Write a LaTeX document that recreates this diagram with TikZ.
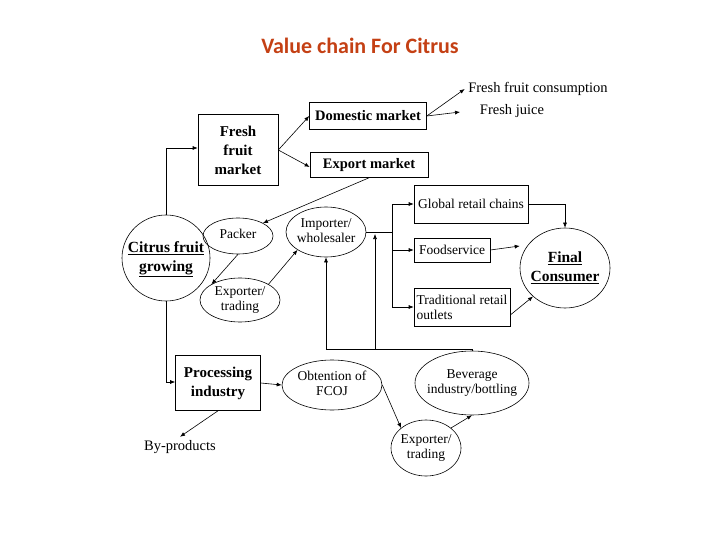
\documentclass[tikz,border=0pt]{standalone}
\usepackage{fontspec}
\setmainfont{Liberation Serif}
\newfontfamily\titlefont{Carlito}
\usetikzlibrary{positioning,arrows.meta,shapes.geometric}
\definecolor{titlered}{RGB}{196,64,20}
\newcommand\squeeze[2]{\makebox[#1][c]{\begin{tabular}{@{}c@{}}#2\end{tabular}}}
\tikzset{every picture/.style={line width=0.6pt}}
\tikzset{
  box/.style={draw,rectangle,inner sep=0pt,font=\fontsize{13.5}{15}\selectfont},
  bigbox/.style={draw,rectangle,inner sep=0pt,align=center,font=\fontsize{15}{19}\selectfont\bfseries},
  oval/.style={draw,ellipse,inner sep=0pt,font=\fontsize{13.5}{15}\selectfont},
  plain/.style={font=\fontsize{14.5}{16}\selectfont},
  arr/.style={-{Latex[length=5pt,width=4pt]}},
}
\begin{document}
\begin{tikzpicture}[x=1pt,y=-1pt]
\useasboundingbox (0,0) rectangle (720,540);
\node[font=\titlefont\fontsize{22}{26}\selectfont\bfseries,text=titlered] (title) at (360,46) {Value chain For Citrus};
% boxes
\node[bigbox,minimum width=80,minimum height=71] (fresh) at (238,150) {Fresh\\fruit\\market};
\node[box,minimum width=117,minimum height=27,font=\fontsize{14.5}{15}\selectfont\bfseries] (dom) at (368,116) {Domestic market};
\node[box,minimum width=118,minimum height=25,font=\fontsize{14.5}{15}\selectfont\bfseries] (exp) at (369,165) {Export market};
\node[box,minimum width=114,minimum height=38] (glob) at (471,204) {Global retail chains};
\node[box,minimum width=76,minimum height=24] (food) at (452,250) {Foodservice};
\node[box,minimum width=96,minimum height=38,align=left] (trad) at (462,307) {Traditional retail\\outlets};
\node[bigbox,minimum width=85,minimum height=55] (proc) at (218,383) {Processing\\industry};
% ovals
\node[oval,minimum width=88,minimum height=86,font=\fontsize{15.5}{19}\selectfont\bfseries] (citrus) at (166,258) {\squeeze{58pt}{\underline{Citrus fruit}\\\underline{growing}}};
\node[oval,minimum width=90,minimum height=80,font=\fontsize{15.5}{19}\selectfont\bfseries] (final) at (565,268) {\squeeze{60pt}{\underline{Final}\\\underline{Consumer}}};
\node[oval,minimum width=70,minimum height=36] (packer) at (238,236) {\squeeze{46pt}{Packer}};
\node[oval,minimum width=80,minimum height=50] (imp) at (326,232) {\squeeze{54pt}{Importer/\\wholesaler}};
\node[oval,minimum width=80,minimum height=44] (exptr) at (240,300) {\squeeze{54pt}{Exporter/\\trading}};
\node[oval,minimum width=100,minimum height=50] (fcoj) at (332,385) {\squeeze{68pt}{Obtention of\\FCOJ}};
\node[oval,minimum width=114,minimum height=64] (bev) at (472,383) {\squeeze{78pt}{Beverage\\industry/bottling}};
\node[oval,minimum width=70,minimum height=56] (exptr2) at (426,448) {\squeeze{46pt}{Exporter/\\trading}};
% plain texts
\node[plain] (ffc) at (538,89) {Fresh fruit consumption};
\node[plain] (fj) at (512,111) {Fresh juice};
\node[plain] (byp) at (180,447) {By-products};
% junctions
\coordinate (split) at (392,232);
\coordinate (ret) at (375,349);
%
\draw[arr] (citrus.north) |- (fresh.west |- 0,148);
\draw[arr] (citrus.south) |- (proc.west |- 0,382);
\draw[arr] (fresh.east) -- (dom.west);
\draw[arr] (fresh.east) -- (exp.west |- 0,167);
\draw[arr] (dom.east) -- (ffc.west);
\draw[arr] (dom.east) -- (460,112);
\draw[arr] (exp.south) -- (packer.north east);
\draw[arr] (packer.south) -- (exptr.north west);
\draw[arr] (exptr.north east) -- (imp.south west);
\draw (imp.east) -- (split);
\draw[arr] (split) |- (glob.west);
\draw[arr] (split) |- (food.west);
\draw[arr] (split) |- (trad.west);
\draw[arr] (glob.east) -| (final.north);
\draw[arr] (food.east) -- (final.west |- 0,246);
\draw[arr] (trad.east |- 0,315) -- (final.south west);
\draw[arr] (proc.east) -- (fcoj.west);
\draw[arr] (fcoj.east) -- (exptr2.north west);
\draw[arr] (exptr2.north east) -- (bev.south);
\draw[arr] (proc.south) -- (byp.north);
\draw[arr] (bev.north) |- (imp.south |- ret) -- (imp.south);
\draw[arr] (ret) -- (375,234);
\end{tikzpicture}
\end{document}
